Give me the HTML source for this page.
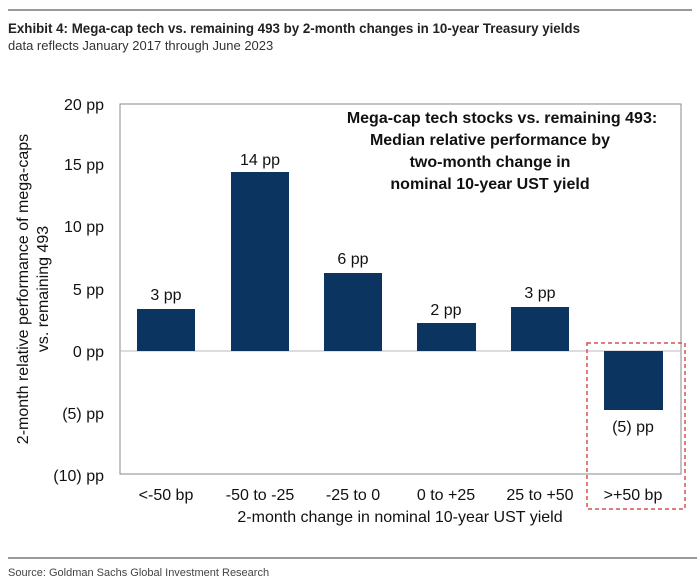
<!DOCTYPE html><html><head><style>body{margin:0;background:#fff;font-family:"Liberation Sans",sans-serif}</style></head><body>
<svg width="700" height="582" xmlns="http://www.w3.org/2000/svg" font-family="Liberation Sans, sans-serif">
<line x1="8" y1="10" x2="692" y2="10" stroke="#999" stroke-width="2"/>
<text x="8" y="33" font-size="14" font-weight="bold" fill="#222" textLength="572" lengthAdjust="spacingAndGlyphs">Exhibit 4: Mega-cap tech vs. remaining 493 by 2-month changes in 10-year Treasury yields</text>
<text x="8" y="50" font-size="13" fill="#333">data reflects January 2017 through June 2023</text>
<rect x="120" y="104" width="561" height="370" fill="none" stroke="#888" stroke-width="1"/>
<line x1="120" y1="351" x2="681" y2="351" stroke="#bbb" stroke-width="1"/>
<g font-size="16" fill="#111" text-anchor="end">
<text x="104" y="110">20 pp</text><text x="104" y="170">15 pp</text><text x="104" y="232">10 pp</text><text x="104" y="295">5 pp</text><text x="104" y="357">0 pp</text><text x="104" y="419">(5) pp</text><text x="104" y="481">(10) pp</text>
</g>
<text transform="translate(28,289) rotate(-90)" font-size="16" fill="#111" text-anchor="middle">2-month relative performance of mega-caps</text>
<text transform="translate(48,289) rotate(-90)" font-size="16" fill="#111" text-anchor="middle">vs. remaining 493</text>
<g fill="#0b3560">
<rect x="137" y="309" width="58" height="42"/><rect x="231" y="172" width="58" height="179"/><rect x="324" y="273" width="58" height="78"/><rect x="417" y="323" width="59" height="28"/><rect x="511" y="307" width="58" height="44"/><rect x="604" y="351" width="59" height="59"/>
</g>
<g font-size="16" fill="#111" text-anchor="middle">
<text x="166" y="300">3 pp</text><text x="260" y="165">14 pp</text><text x="353" y="264">6 pp</text><text x="446" y="315">2 pp</text><text x="540" y="298">3 pp</text><text x="633" y="432">(5) pp</text>
<text x="166" y="500">&lt;-50 bp</text><text x="260" y="500">-50 to -25</text><text x="353" y="500">-25 to 0</text><text x="446" y="500">0 to +25</text><text x="540" y="500">25 to +50</text><text x="633" y="500">&gt;+50 bp</text>
<text x="400" y="522">2-month change in nominal 10-year UST yield</text>
</g>
<g font-size="16" font-weight="bold" fill="#111" text-anchor="middle">
<text x="502" y="123">Mega-cap tech stocks vs. remaining 493:</text>
<text x="490" y="145">Median relative performance by</text>
<text x="490" y="167">two-month change in</text>
<text x="490" y="189">nominal 10-year UST yield</text>
</g>
<rect x="587" y="343" width="98" height="166" fill="none" stroke="#d9534f" stroke-width="1.5" stroke-dasharray="4,3"/>
<line x1="8" y1="558" x2="697" y2="558" stroke="#999" stroke-width="2"/>
<text x="8" y="576" font-size="11" fill="#444">Source: Goldman Sachs Global Investment Research</text>
</svg></body></html>
